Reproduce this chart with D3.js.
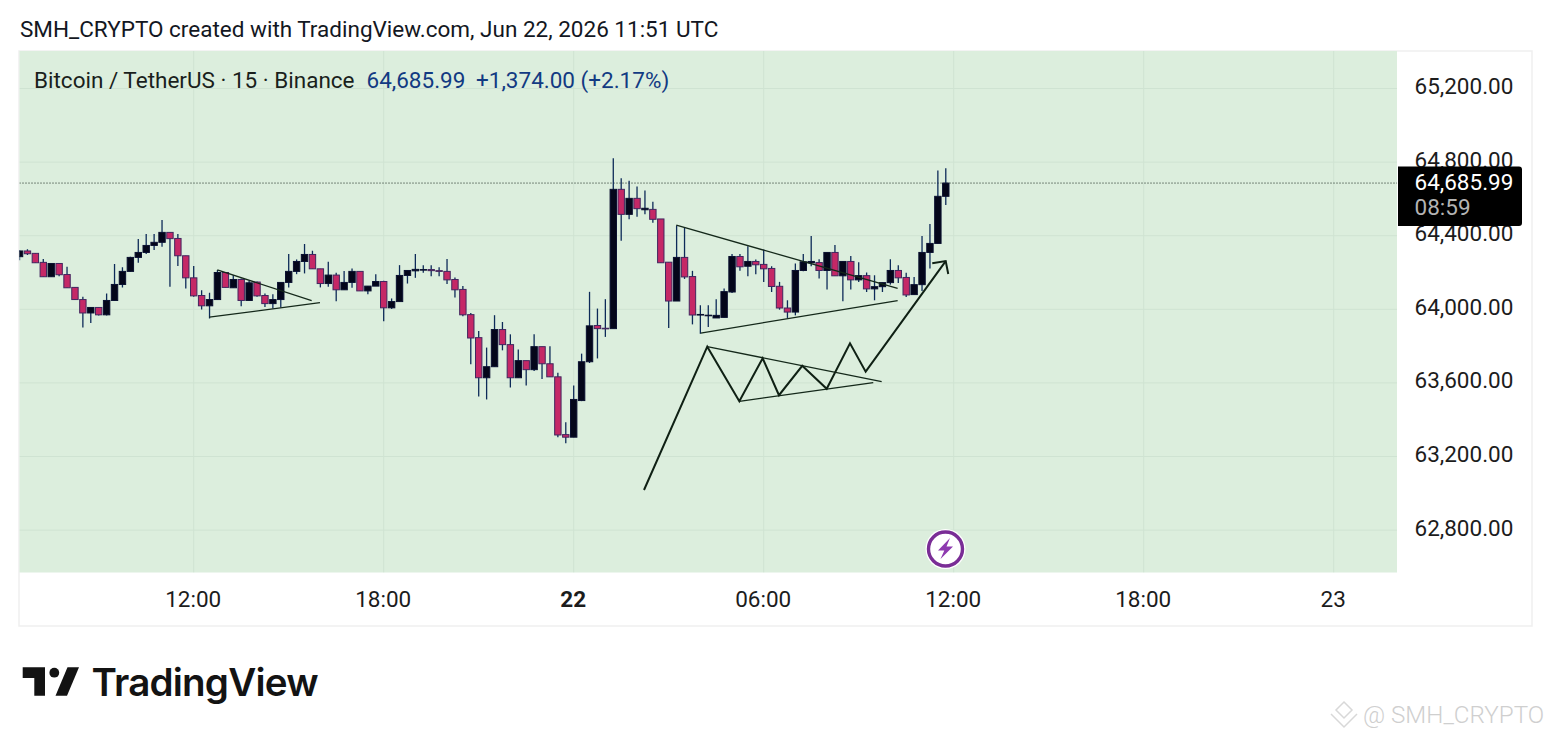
<!DOCTYPE html>
<html><head><meta charset="utf-8">
<script src="https://cdn.jsdelivr.net/npm/d3@7/dist/d3.min.js"></script>
<style>
html,body{margin:0;padding:0;background:#fff;overflow:hidden}
svg{display:block}
text{font-family:Roboto,sans-serif}
</style></head><body>
<svg id="c" width="1551" height="739"></svg>
<script>
const opens=[64286,64317,64304,64255,64177,64249,64189,64119,64053,63980,64010,63970,64048,64135,64206,64282,64309,64347,64364,64418,64385,64291,64171,64075,64019,64053,64200,64117,64162,64048,64148,64075,64031,64053,64146,64206,64260,64298,64220,64140,64186,64106,64146,64206,64100,64126,64151,64008,64042,64184,64209,64214,64216,64210,64206,64162,64108,63971,63846,63628,63688,63890,63808,63628,63721,63672,63797,63704,63633,63319,63305,63504,63715,63912,63897,63895,64652,64516,64603,64541,64543,64491,64256,64045,64282,64178,63969,63966,63953,63956,64094,64287,64234,64260,64244,64222,64125,64007,63985,64211,64252,64254,64211,64309,64182,64260,64160,64183,64111,64123,64145,64211,64173,64080,64134,64309,64358,64614];
const highs=[64322,64326,64304,64273,64249,64249,64231,64119,64068,64010,64013,64086,64246,64228,64286,64382,64409,64409,64485,64418,64409,64291,64235,64104,64090,64213,64200,64186,64168,64155,64151,64086,64082,64149,64300,64271,64355,64318,64220,64258,64198,64208,64222,64206,64126,64191,64155,64059,64240,64211,64300,64240,64240,64228,64273,64173,64126,63980,63882,63792,63968,63931,63864,63781,63721,63864,63797,63799,63655,63386,63586,63759,64095,64004,64055,64821,64712,64698,64667,64645,64585,64491,64256,64456,64445,64209,64022,64022,64055,64113,64300,64300,64343,64271,64325,64234,64149,64049,64249,64300,64398,64272,64309,64349,64260,64289,64256,64200,64185,64145,64272,64240,64198,64176,64398,64463,64754,64767];
const lows=[64267,64295,64253,64177,64177,64180,64117,64050,63901,63926,63966,63966,64046,64119,64204,64253,64300,64322,64340,64122,64235,64113,64068,63999,63950,64050,64119,64117,64017,64046,64068,64013,64004,64010,64119,64191,64195,64220,64119,64122,64044,64106,64117,64100,64082,64126,63935,64002,64042,64140,64171,64198,64180,64180,64137,64064,63962,63701,63526,63510,63688,63777,63575,63628,63586,63664,63621,63633,63305,63272,63305,63501,63708,63733,63850,63895,64373,64489,64503,64516,64471,64253,63898,64045,64165,63918,63867,63904,63953,63956,64089,64209,64180,64191,64149,64094,63998,63953,63967,64207,64234,64167,64107,64182,64044,64107,64149,64094,64049,64094,64134,64143,64067,64080,64100,64222,64358,64567];
const closes=[64317,64302,64253,64177,64249,64188,64117,64053,63980,64010,63970,64048,64135,64206,64282,64309,64347,64364,64418,64384,64291,64171,64073,64019,64053,64200,64119,64162,64048,64144,64073,64031,64053,64146,64206,64260,64298,64220,64140,64186,64106,64146,64206,64100,64126,64151,64008,64042,64184,64211,64217,64216,64210,64206,64160,64106,63970,63844,63628,63688,63890,63808,63628,63721,63672,63797,63704,63633,63317,63305,63510,63715,63910,63895,63894,64652,64516,64603,64547,64549,64489,64253,64045,64282,64176,63969,63972,63968,63967,64096,64287,64231,64260,64242,64220,64124,64007,63985,64211,64258,64260,64211,64309,64182,64260,64160,64183,64111,64123,64145,64211,64171,64078,64134,64309,64358,64614,64685.99];
const lastPrice=64685.99;
const priceTicks=[65200,64800,64400,64000,63600,63200,62800];
const timeTickLabels=["12:00","18:00","22","06:00","12:00","18:00","23"];
// annotation drawings: bar position and price
const zigBars=[78.88,86.87,90.92,93.87,95.93,98.87,101.96,104.9,106.88,116.99];
const zigPrices=[63018,63797,63500,63734,63533,63693,63568,63815,63661,64262];
const headBars=[115.29,116.99,117.31];
const headPrices=[64250,64262,64192];
const trendBars=[[86.87,108.9],[90.92,107.84],[82.96,110.92],[86.04,110.92],[24.98,36.9],[23.97,37.95]];
const trendPrices=[[63797,63607],[63500,63601],[64457,64114],[63871,64047],[64214,64047],[63957,64036]];

const H=3600e3, BAR=15*60e3;
const t0=Date.UTC(2026,5,21,6,30);
const barTime=i=>new Date(t0+i*BAR);
const noon21=Date.UTC(2026,5,21,12), noon22=Date.UTC(2026,5,22,12);
const x=d3.scaleUtc().domain([new Date(noon21),new Date(noon22)]).range([193.7,953.7]);
const y=d3.scaleLinear().domain([64000,65200]).range([309.3,88.5]);
const timeTicks=[12,18,24,30,36,42,48].map(h=>new Date(Date.UTC(2026,5,21)+h*H));

const L=19.5,R=1397,T=51,B=572.5;
const svg=d3.select("#c");
svg.append("defs").append("clipPath").attr("id","pane").append("rect").attr("x",L).attr("y",T).attr("width",R-L).attr("height",B-T);
svg.append("rect").attr("x",19).attr("y",51).attr("width",1513).attr("height",575).attr("fill","#fff").attr("stroke","#efefef").attr("stroke-width",1.5);
svg.append("rect").attr("x",L).attr("y",T).attr("width",R-L).attr("height",B-T).attr("fill","#dceedd");

const pane=svg.append("g").attr("clip-path","url(#pane)");
pane.selectAll(".gx").data(timeTicks).join("line").attr("x1",d=>x(d)).attr("x2",d=>x(d)).attr("y1",T).attr("y2",B).attr("stroke","#cfe3d2");
pane.selectAll(".gy").data(priceTicks).join("line").attr("x1",L).attr("x2",R).attr("y1",d=>y(d)).attr("y2",d=>y(d)).attr("stroke","#cfe3d2");
pane.append("line").attr("x1",L).attr("x2",R).attr("y1",y(lastPrice)).attr("y2",y(lastPrice)).attr("stroke","#0f1f16").attr("stroke-dasharray","1 2");

const idx=d3.range(opens.length);
const PINK="#c52866",DARK="#04061a",WICK="#0d2a58";
pane.selectAll(".w").data(idx).join("line").attr("x1",i=>x(barTime(i))).attr("x2",i=>x(barTime(i))).attr("y1",i=>y(highs[i])).attr("y2",i=>y(lows[i])).attr("stroke",WICK).attr("stroke-width",1.3);
pane.selectAll(".b").data(idx).join("rect")
 .attr("x",i=>x(barTime(i))-3.2).attr("width",6.4)
 .attr("y",i=>y(Math.max(opens[i],closes[i])))
 .attr("height",i=>Math.max(0.6,Math.abs(y(opens[i])-y(closes[i]))))
 .attr("fill",i=>closes[i]>=opens[i]?DARK:PINK)
 .attr("stroke",i=>closes[i]>=opens[i]?"#0a1030":"#43265f").attr("stroke-width",1);

const ln=d3.line().x(d=>x(barTime(d[0]))).y(d=>y(d[1]));
trendBars.forEach((b,k)=>{
  pane.append("path").attr("d",ln(b.map((v,j)=>[v,trendPrices[k][j]]))).attr("fill","none").attr("stroke","#14281a").attr("stroke-width",1.3);
});
pane.append("path").attr("d",ln(zigBars.map((v,j)=>[v,zigPrices[j]]))).attr("fill","none").attr("stroke","#0f2014").attr("stroke-width",2);
pane.append("path").attr("d",ln(headBars.map((v,j)=>[v,headPrices[j]]))).attr("fill","none").attr("stroke","#0f2014").attr("stroke-width",2);

// bolt badge
const bg=svg.append("g").attr("transform","translate(945.5,549)");
bg.append("circle").attr("r",20).attr("fill","#fff");
bg.append("circle").attr("r",17).attr("fill","#fff").attr("stroke","#7a2d96").attr("stroke-width",3.4);
bg.append("path").attr("d","M4.5,-11 L-7.5,1.5 L-1.2,1.5 L-5,10 L7.5,-2.5 L1,-2.5 Z").attr("fill","#8e3ab0");

// axes
const ay=d3.axisRight(y).tickValues(priceTicks).tickSize(0).tickPadding(0).tickFormat(d3.format(",.2f"));
const gy=svg.append("g").attr("transform","translate(1414.5,-2.2)").call(ay);
gy.select(".domain").remove();
gy.selectAll("text").attr("font-size",22.5).attr("fill","#1c1c1c").attr("font-family","Roboto,sans-serif");

const ax=d3.axisBottom(x).tickValues(timeTicks).tickSize(0).tickPadding(0).tickFormat((d,i)=>timeTickLabels[i]);
const gx=svg.append("g").attr("transform","translate(-1,591.5)").call(ax);
gx.select(".domain").remove();
gx.selectAll("text").attr("font-size",22.5).attr("fill","#1c1c1c").attr("font-family","Roboto,sans-serif")
  .attr("font-weight",(d,i)=>i===2?700:400);

// price tag
const tagY=y(lastPrice);
svg.append("path").attr("d",`M1398,${tagY-16.5} H1519 a3,3 0 0 1 3,3 V${tagY+40} a3,3 0 0 1 -3,3 H1398 Z`).attr("fill","#000");
svg.append("text").attr("x",1414.5).attr("y",tagY+6.5).attr("font-size",22.5).attr("fill","#fff").text(d3.format(",.2f")(lastPrice));
svg.append("text").attr("x",1414.5).attr("y",tagY+32).attr("font-size",22.5).attr("fill","#b3b3b3").text("08:59");

// titles
svg.append("text").attr("x",20).attr("y",37).attr("font-size",22.5).attr("fill","#131722").text("SMH_CRYPTO created with TradingView.com, Jun 22, 2026 11:51 UTC");
svg.append("text").attr("x",34).attr("y",88).attr("font-size",22.5).attr("fill","#1a1f1c").text("Bitcoin / TetherUS · 15 · Binance");
svg.append("text").attr("x",366.5).attr("y",88).attr("font-size",22.5).attr("fill","#123a82").text("64,685.99");
svg.append("text").attr("x",476).attr("y",88).attr("font-size",22.5).attr("fill","#123a82").text("+1,374.00 (+2.17%)");

// logo
const lg=svg.append("g").attr("fill","#131313");
lg.append("path").attr("d","M22.7,667.3 H45 V695.7 H34.3 V678 H22.7 Z");
lg.append("circle").attr("cx",54.3).attr("cy",672.7).attr("r",4.9);
lg.append("path").attr("d","M67.5,667.3 H79 L67,695.7 H55.5 Z");
svg.append("text").attr("x",91.5).attr("y",696).attr("font-size",38.6).attr("font-weight",600).attr("fill","#131313").style("font-family","Inter,sans-serif").attr("letter-spacing",-0.8).text("TradingView");

// watermark
const wm=svg.append("g").attr("fill","none").attr("stroke","#d8d8d8").attr("stroke-width",1.5);
wm.append("path").attr("d","M1344,702 L1352,710 L1344,718 L1336,710 Z");
wm.append("path").attr("d","M1331,714 L1344,727 L1357,714");
svg.append("text").attr("x",1363).attr("y",723).attr("font-size",24.2).attr("font-weight",300).attr("fill","#cfcfcf").text("@ SMH_CRYPTO");
</script>
</body></html>
